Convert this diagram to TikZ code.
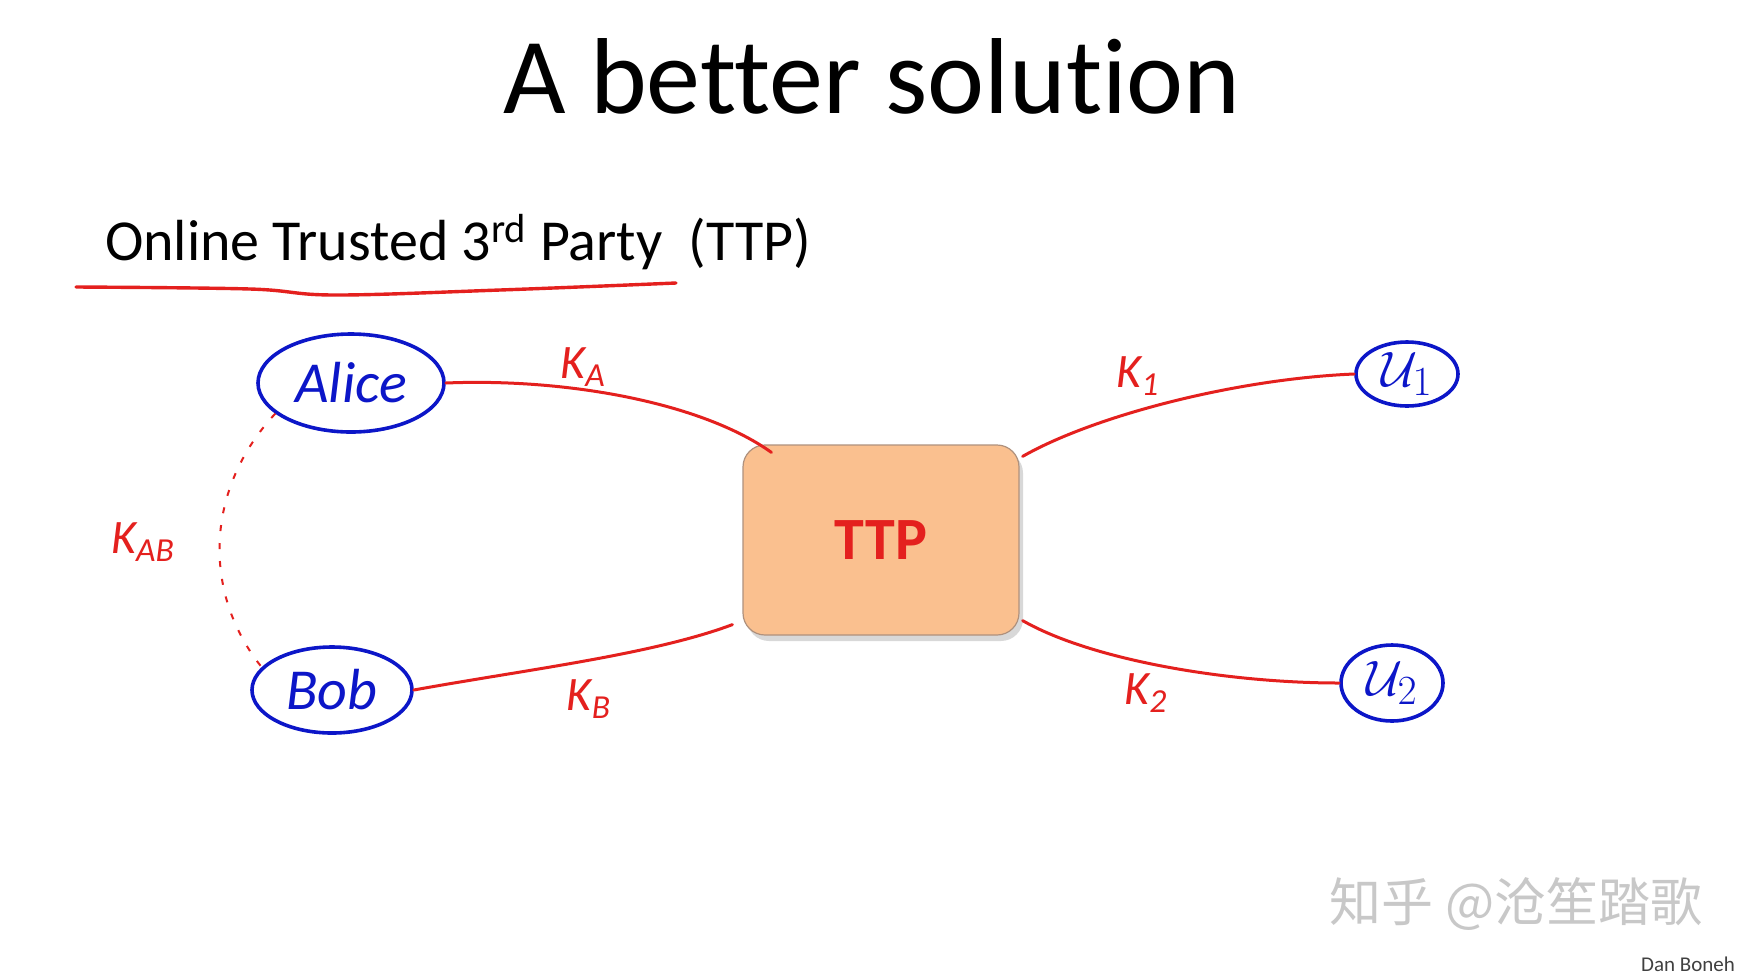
\documentclass[tikz,border=0pt]{standalone}
\usepackage{fontspec}
\setmainfont{Carlito}[Ligatures=NoCommon]
\newfontfamily\cjkfont{Noto Sans CJK SC}
\usepackage{tikz}
\usetikzlibrary{arrows.meta, positioning, calc, shadows, shapes.geometric}
\definecolor{penblue}{RGB}{12, 22, 200}
\definecolor{penred}{RGB}{228, 32, 30}
\definecolor{ttpfill}{RGB}{250, 192, 143}
\definecolor{ttpedge}{RGB}{175, 145, 125}
\definecolor{wmgray}{RGB}{200, 200, 200}

\begin{document}
\begin{tikzpicture}[x=0.5pt, y=-0.5pt,
        user/.style={ellipse, draw=penblue, line width=1.8pt, inner sep=0pt, text=penblue,
                     font=\fontsize{29}{30}\selectfont\itshape},
        ttpbox/.style={rectangle, rounded corners=11pt, draw=ttpedge, line width=0.6pt, fill=ttpfill,
                       drop shadow={shadow xshift=2pt, shadow yshift=-3pt, opacity=0.3},
                       minimum width=138pt, minimum height=95pt, font=\fontsize{30}{32}\selectfont},
        keyline/.style={draw=penred, line width=1.5pt, line cap=round},
        keylabel/.style={text=penred, inner sep=1pt, font=\fontsize{24}{26}\selectfont\itshape}]
        \fill[white] (0,0) rectangle (1746,976);
        \useasboundingbox (0,0) rectangle (1746,976);

        \node[font=\fontsize{54}{60}\selectfont] (title) at (872,76) {A better solution};
        \node[anchor=west, font=\fontsize{29}{34}\selectfont] (sub) at (98,242) {Online Trusted 3\textsuperscript{rd} Party\ \ (TTP)};
        \draw[keyline, line width=1.7pt] plot[smooth, tension=0.6] coordinates {(76,287) (250,289) (334,295) (500,290) (676,283)};

        \node[ttpbox] (ttp) at (881,540) {\textcolor{penred}{\textbf{TTP}}};
        \node[user, minimum width=93pt, minimum height=49pt] (alice) at (351,383) {Alice};
        \node[user, minimum width=80pt, minimum height=43pt] (bob) at (332,690) {Bob};
        \node[user, minimum width=51pt, minimum height=32pt] (uone) at (1407,374) {$\mathcal{U}_1$};
        \node[user, minimum width=51pt, minimum height=38pt] (utwo) at (1392,683) {$\mathcal{U}_2$};

        \draw[keyline] (alice.east) .. controls +(120,-5) and +(-70,-50) .. ($(ttp.north west)+(29,8)$);
        \draw[keyline] (bob.east) .. controls +(110,-20) and +(-80,30) .. ($(ttp.south west)+(-10,-11)$);
        \draw[keyline] ($(ttp.north east)+(3,12)$) .. controls +(70,-40) and +(-120,5) .. (uone.west);
        \draw[keyline] ($(ttp.south east)+(3,-15)$) .. controls +(70,40) and +(-110,0) .. (utwo.west);
        \draw[draw=penred, line width=1pt, dash pattern=on 3pt off 6pt] (alice.202) .. controls +(-70,75) and +(-60,-75) .. (bob.162);

        \node[keylabel] (ka) at (583,367) {K\textsubscript{A}};
        \node[keylabel] (kb) at (589,699) {K\textsubscript{B}};
        \node[keylabel] (kone) at (1138,376) {K\textsubscript{1}};
        \node[keylabel] (ktwo) at (1146,693) {K\textsubscript{2}};
        \node[keylabel] (kab) at (143,542) {K\textsubscript{AB}};

        \node[text=wmgray, font=\cjkfont\fontsize{26}{28}\selectfont] (wm) at (1516,904) {知乎 @沧笙踏歌};
        \node[anchor=east, text=black!75, font=\fontsize{10.5}{12}\selectfont] (author) at (1742,964) {Dan Boneh};
    \end{tikzpicture}
\end{document}
